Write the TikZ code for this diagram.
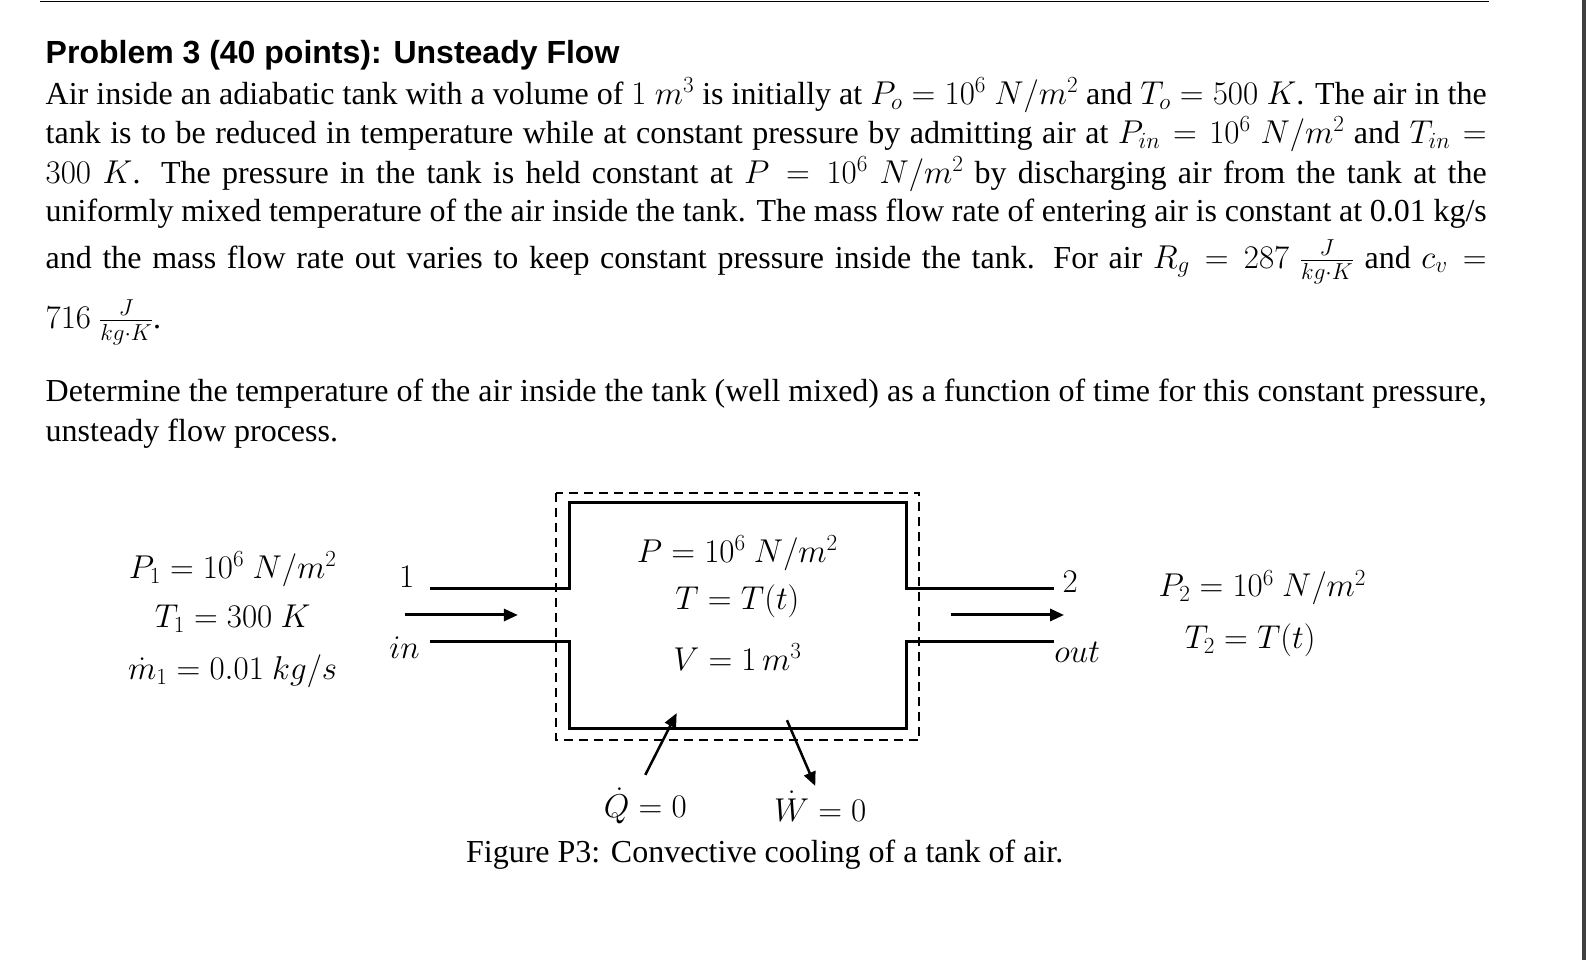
\documentclass[tikz,border=0pt]{standalone}
\usepackage{fix-cm}
\usepackage{fontspec}
\setmainfont{Liberation Serif}
\newfontfamily\titlefont{Liberation Sans}
\usetikzlibrary{arrows.meta}
\newcommand{\jline}[1]{\hbox to 1441pt{#1}}
\newcommand{\mm}[1]{{\fontsize{33}{38}\selectfont$#1$}}
\newcommand{\mf}{{\fontsize{33}{38}\selectfont$\frac{J}{kg\cdot K}$}}
\begin{document}
\begin{tikzpicture}[x=1.0115pt,y=-1.0115pt,
  txt/.style={anchor=base west,inner sep=0pt,font=\fontsize{32}{38}\selectfont},
  dtxt/.style={inner sep=0pt,font=\fontsize{32}{38}\selectfont},
  wall/.style={line width=3pt},
  flow/.style={line width=3pt,-{Triangle[length=14pt,width=12pt]}}]
\useasboundingbox (0,0) rectangle (1568,949);
\fill[white] (0,0) rectangle (1568,949);
\fill[black!75] (1564,0) rectangle (1568,949);
\draw[line width=1pt] (40,1) -- (1472,1);
\node[txt,font=\titlefont\bfseries\fontsize{32}{38}\selectfont] (title) at (45,63) {Problem 3 (40 points): Unsteady Flow};
\node[txt] (l1) at (45,103) {\jline{Air inside an adiabatic tank with a volume of \mm{1\ m^3} is initially at \mm{P_o = 10^6\ N/m^2} and \mm{T_o = 500\ K}. The air in the}};
\node[txt] (l2) at (45,142) {\jline{tank is to be reduced in temperature while at constant pressure by admitting air at \mm{P_{in} = 10^6\ N/m^2} and \mm{T_{in} =}}};
\node[txt] (l3) at (45,181) {\jline{\mm{300\ K}. The pressure in the tank is held constant at \mm{P = 10^6\ N/m^2} by discharging air from the tank at the}};
\node[txt] (l4) at (45,219) {\jline{uniformly mixed temperature of the air inside the tank. The mass flow rate of entering air is constant at 0.01 kg/s}};
\node[txt] (l5) at (45,265) {\jline{and the mass flow rate out varies to keep constant pressure inside the tank. For air \mm{R_g = 287}\ \mf\ and \mm{c_v =}}};
\node[txt] (l6) at (45,325) {\mm{716}\ \mf.};
\node[txt] (l7) at (45,397) {\jline{Determine the temperature of the air inside the tank (well mixed) as a function of time for this constant pressure,}};
\node[txt] (l8) at (45,436) {unsteady flow process.};
% dashed control volume
\draw[line width=2pt,dash pattern=on 9pt off 6pt] (550,487) rectangle (909,732);
% tank
\draw[wall] (425,582) -- (563,582) -- (563,497) -- (896,497) -- (896,582) -- (1042,582);
\draw[wall] (425,634) -- (563,634) -- (563,720) -- (896,720) -- (896,634) -- (1042,634);
\coordinate (ia) at (400,608); \coordinate (ib) at (512,608);
\coordinate (oa) at (940,608); \coordinate (ob) at (1052,608);
\draw[flow] (ia) -- (ib);
\draw[flow] (oa) -- (ob);
\coordinate (qa) at (638,766); \coordinate (qb) at (669,705);
\coordinate (wa) at (778,712); \coordinate (wb) at (806,777);
\draw[flow,line width=2.5pt] (qa) -- (qb);
\draw[flow,line width=2.5pt] (wa) -- (wb);
\node[dtxt] (n1) at (402,570) {\mm{1}};
\node[dtxt] (nin) at (400,640) {\mm{in}};
\node[dtxt] (n2) at (1058,575) {\mm{2}};
\node[dtxt] (nout) at (1065,645) {\mm{out}};
\node[dtxt] (pin) at (729,547) {\mm{P = 10^6\ N/m^2}};
\node[dtxt] (tin) at (729,594) {\mm{T = T(t)}};
\node[dtxt] (vin) at (729,650) {\mm{V = 1\,m^3}};
\node[dtxt] (p1) at (230,563) {\mm{P_1 = 10^6\ N/m^2}};
\node[dtxt] (t1) at (230,612) {\mm{T_1 = 300\ K}};
\node[dtxt] (m1) at (230,664) {\mm{\dot m_1 = 0.01\ kg/s}};
\node[dtxt] (p2) at (1248,581) {\mm{P_2 = 10^6\ N/m^2}};
\node[dtxt] (t2) at (1236,633) {\mm{T_2 = T(t)}};
\node[dtxt] (q) at (638,797) {\mm{\dot Q = 0}};
\node[dtxt] (w) at (811,797) {\mm{\dot W = 0}};
\node[dtxt] (cap) at (756,845) {Figure P3: Convective cooling of a tank of air.};
\end{tikzpicture}
\end{document}
